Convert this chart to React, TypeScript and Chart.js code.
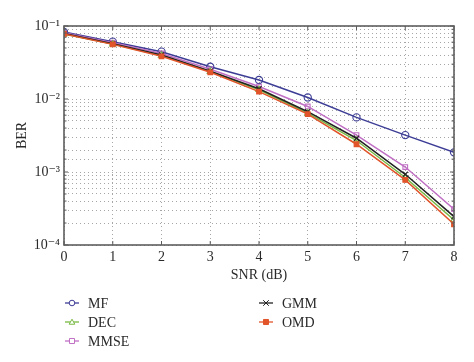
import React, { useEffect, useRef } from "react";
import { Chart, registerables } from "chart.js";

Chart.register(...registerables);

const snr = [0, 1, 2, 3, 4, 5, 6, 7, 8];
const mf = [0.083, 0.061, 0.0445, 0.0277, 0.0182, 0.0105, 0.0056, 0.0032, 0.00186];
const dec = [0.078, 0.0565, 0.0395, 0.0238, 0.0134, 0.0064, 0.0027, 0.00084, 0.00022];
const mmse = [0.081, 0.059, 0.042, 0.0255, 0.0148, 0.0079, 0.0032, 0.00117, 0.00031];
const gmm = [0.079, 0.057, 0.040, 0.024, 0.0138, 0.0067, 0.0029, 0.00093, 0.000245];
const omd = [0.078, 0.056, 0.0385, 0.0232, 0.0126, 0.0062, 0.0024, 0.00078, 0.000192];
const yDecadeLabels = ["10\u207B\u2074", "10\u207B\u00B3", "10\u207B\u00B2", "10\u207B\u00B9"];

const FONT = "'Liberation Serif', 'DejaVu Serif', serif";

type Series = { label: string; data: number[]; color: string; style: string; fill: boolean; order: number; r: number };
const seriesList: Series[] = [
  { label: "MF", data: mf, color: "#3d3d96", style: "circle", fill: false, order: 4, r: 3.6 },
  { label: "DEC", data: dec, color: "#78b943", style: "triangle", fill: false, order: 2, r: 3.6 },
  { label: "MMSE", data: mmse, color: "#c070c4", style: "rect", fill: false, order: 3, r: 3.3 },
  { label: "GMM", data: gmm, color: "#222222", style: "crossRot", fill: false, order: 1, r: 3.6 },
  { label: "OMD", data: omd, color: "#e2542a", style: "rect", fill: true, order: 0, r: 3.3 },
];

const legendLayout = [
  { x: 65, y: 303 },
  { x: 65, y: 322 },
  { x: 65, y: 341 },
  { x: 259, y: 303 },
  { x: 259, y: 322 },
];

const framePlugin = {
  id: "frame",
  afterDraw(chart: any) {
    const { ctx, chartArea } = chart;
    const { left, right, top, bottom } = chartArea;
    const xs = chart.scales.x;
    const ys = chart.scales.y;
    ctx.save();
    ctx.strokeStyle = "#5a5a5a";
    ctx.lineWidth = 1;
    ctx.beginPath();
    for (const v of snr) {
      const px = xs.getPixelForValue(v);
      ctx.moveTo(px, bottom);
      ctx.lineTo(px, bottom - 4);
      ctx.moveTo(px, top);
      ctx.lineTo(px, top + 4);
    }
    for (const t of ys.ticks) {
      const py = ys.getPixelForValue(t.value);
      const lg = Math.log10(t.value);
      const major = Math.abs(lg - Math.round(lg)) < 1e-6;
      const len = major ? 4 : 2.5;
      ctx.moveTo(left, py);
      ctx.lineTo(left + len, py);
      ctx.moveTo(right, py);
      ctx.lineTo(right - len, py);
    }
    ctx.stroke();
    ctx.lineWidth = 1.6;
    ctx.strokeStyle = "#5e5e5e";
    ctx.strokeRect(left, top, right - left, bottom - top);

    ctx.font = `14px ${FONT}`;
    ctx.textBaseline = "middle";
    ctx.textAlign = "left";
    seriesList.forEach((s, i) => {
      const p = legendLayout[i];
      ctx.strokeStyle = s.color;
      ctx.lineWidth = 1.3;
      ctx.beginPath();
      ctx.moveTo(p.x, p.y);
      ctx.lineTo(p.x + 14, p.y);
      ctx.stroke();
      const cx = p.x + 7;
      const r = 2.8;
      ctx.lineWidth = 1;
      ctx.beginPath();
      if (s.style === "circle") {
        ctx.fillStyle = "#ffffff";
        ctx.arc(cx, p.y, r, 0, Math.PI * 2);
        ctx.fill();
        ctx.stroke();
      } else if (s.style === "triangle") {
        ctx.fillStyle = "#ffffff";
        ctx.moveTo(cx, p.y - r);
        ctx.lineTo(cx + r, p.y + r * 0.8);
        ctx.lineTo(cx - r, p.y + r * 0.8);
        ctx.closePath();
        ctx.fill();
        ctx.stroke();
      } else if (s.style === "crossRot") {
        ctx.moveTo(cx - r, p.y - r);
        ctx.lineTo(cx + r, p.y + r);
        ctx.moveTo(cx + r, p.y - r);
        ctx.lineTo(cx - r, p.y + r);
        ctx.stroke();
      } else {
        ctx.fillStyle = s.fill ? s.color : "#ffffff";
        ctx.rect(cx - r * 0.9, p.y - r * 0.9, r * 1.8, r * 1.8);
        ctx.fill();
        ctx.stroke();
      }
      ctx.fillStyle = "#2a2a2a";
      ctx.fillText(s.label, p.x + 23, p.y + 1);
    });
    ctx.restore();
  },
};

export default function App() {
  const ref = useRef<HTMLCanvasElement | null>(null);
  useEffect(() => {
    document.body.style.margin = "0";
    const canvas = ref.current;
    if (!canvas) return;
    const chart = new Chart(canvas, {
      type: "line",
      data: {
        datasets: seriesList.map((s) => ({
          label: s.label,
          data: snr.map((x, i) => ({ x, y: s.data[i] })),
          borderColor: s.color,
          backgroundColor: s.fill ? s.color : "rgba(255,255,255,0)",
          pointBackgroundColor: s.fill ? s.color : "rgba(255,255,255,0)",
          pointBorderColor: s.color,
          pointStyle: s.style as any,
          pointRadius: s.r,
          pointBorderWidth: 1.1,
          borderWidth: 1.5,
          tension: 0,
          fill: false,
          order: s.order,
        })),
      },
      options: {
        animation: false,
        responsive: true,
        maintainAspectRatio: false,
        layout: { padding: { top: 26, right: 20, bottom: 77, left: 0 } },
        plugins: { legend: { display: false }, tooltip: { enabled: false } },
        scales: {
          x: {
            type: "linear",
            min: 0,
            max: 8,
            afterFit: (sc: any) => {
              sc.height = 40;
            },
            ticks: {
              stepSize: 1,
              padding: 4,
              color: "#2a2a2a",
              font: { family: FONT, size: 14 },
            },
            grid: { color: "#a6a6a6", lineWidth: 1, drawTicks: false },
            border: { display: false, dash: [1, 3] },
            title: {
              display: true,
              text: "SNR (dB)",
              color: "#2a2a2a",
              font: { family: FONT, size: 14 },
              padding: { top: 0, bottom: 1 },
            },
          },
          y: {
            type: "logarithmic",
            min: 1e-4,
            max: 1e-1,
            afterFit: (sc: any) => {
              sc.width = 64;
            },
            ticks: {
              autoSkip: false,
              padding: 4,
              color: "#2a2a2a",
              font: { family: FONT, size: 14 },
              callback: (v: any) => {
                const lg = Math.log10(Number(v));
                if (Math.abs(lg - Math.round(lg)) < 1e-6) {
                  const idx = Math.round(lg) + 4;
                  return yDecadeLabels[idx] ?? "";
                }
                return "";
              },
            },
            grid: { color: "#a6a6a6", lineWidth: 1, drawTicks: false },
            border: { display: false, dash: [1, 3] },
            title: {
              display: true,
              text: "BER",
              color: "#2a2a2a",
              font: { family: FONT, size: 14 },
              padding: { top: 14, bottom: 0 },
            },
          },
        },
      },
      plugins: [framePlugin],
    });
    return () => chart.destroy();
  }, []);
  return (
    <div style={{ position: "absolute", left: 0, top: 0, width: 474, height: 362 }}>
      <canvas ref={ref} />
    </div>
  );
}
